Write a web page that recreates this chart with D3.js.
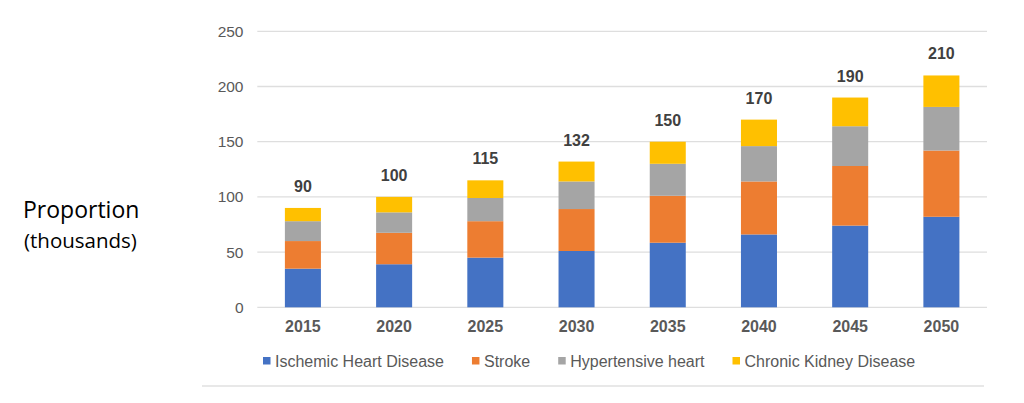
<!DOCTYPE html>
<html>
<head>
<meta charset="utf-8">
<script src="https://cdn.jsdelivr.net/npm/d3@7"></script>
<style>
  html, body { margin: 0; padding: 0; background: #ffffff; }
  svg { display: block; }
</style>
</head>
<body>
<script>
const years = ["2015", "2020", "2025", "2030", "2035", "2040", "2045", "2050"];
const ischemic = [35, 39, 45, 51, 58.5, 66, 74, 82];
const stroke = [25, 28.5, 33, 38, 42.5, 48, 54, 60];
const hypertensive = [18, 18.5, 21, 25, 29, 32, 36, 39.5];
const ckd = [12, 14, 16, 18, 20, 24, 26, 28.5];
const seriesNames = ["Ischemic Heart Disease", "Stroke", "Hypertensive heart", "Chronic Kidney Disease"];
const seriesKeys = ["ischemic", "stroke", "hypertensive", "ckd"];
const colors = ["#4472C4", "#ED7D31", "#A5A5A5", "#FFC000"];
const yTicks = [0, 50, 100, 150, 200, 250];

const W = 1024, H = 403;
const svg = d3.select("body").append("svg").attr("width", W).attr("height", H);

const table = years.map((yr, i) => ({
  year: yr, ischemic: ischemic[i], stroke: stroke[i], hypertensive: hypertensive[i], ckd: ckd[i]
}));

const x = d3.scaleBand().domain(years).range([257.3, 987]).paddingInner(0.605).paddingOuter(0.3025);
const y = d3.scaleLinear().domain([0, 250]).range([307.3, 31.3]);

// gridlines
svg.append("g").selectAll("line").data(yTicks).join("line")
  .attr("x1", 257.3).attr("x2", 987)
  .attr("y1", d => y(d)).attr("y2", d => y(d))
  .attr("stroke", "#dedede").attr("stroke-width", 1.3);

// y tick labels
svg.append("g").selectAll("text").data(yTicks).join("text")
  .attr("x", 243.5).attr("y", d => y(d)).attr("dy", "0.36em")
  .attr("text-anchor", "end")
  .attr("font-family", "Liberation Sans, Arial, sans-serif")
  .attr("font-size", 15.5).attr("fill", "#595959")
  .text(d => d);

// stacked bars
const stack = d3.stack().keys(seriesKeys);
const layers = stack(table);
svg.append("g").selectAll("g").data(layers).join("g")
  .attr("fill", (d, i) => colors[i])
  .selectAll("rect").data(d => d).join("rect")
  .attr("x", d => x(d.data.year))
  .attr("width", x.bandwidth())
  .attr("y", d => y(d[1]))
  .attr("height", d => y(d[0]) - y(d[1]));

// total labels
svg.append("g").selectAll("text").data(table).join("text")
  .attr("x", d => x(d.year) + x.bandwidth() / 2)
  .attr("y", d => y(d.ischemic + d.stroke + d.hypertensive + d.ckd) - 16)
  .attr("text-anchor", "middle")
  .attr("font-family", "Liberation Sans, Arial, sans-serif")
  .attr("font-size", 16).attr("font-weight", "bold").attr("fill", "#404040")
  .text(d => d3.format("d")(d.ischemic + d.stroke + d.hypertensive + d.ckd));

// x labels
svg.append("g").selectAll("text").data(years).join("text")
  .attr("x", d => x(d) + x.bandwidth() / 2)
  .attr("y", 332.3)
  .attr("text-anchor", "middle")
  .attr("font-family", "Liberation Sans, Arial, sans-serif")
  .attr("font-size", 16).attr("font-weight", "bold").attr("fill", "#595959")
  .text(d => d);

// legend
const legend = svg.append("g");
let lx = 263;
seriesNames.forEach((name, i) => {
  legend.append("rect").attr("x", lx).attr("y", 357).attr("width", 7.5).attr("height", 7.5).attr("fill", colors[i]);
  const t = legend.append("text").attr("x", lx + 12).attr("y", 366.5)
    .attr("font-family", "Liberation Sans, Arial, sans-serif")
    .attr("font-size", 16).attr("fill", "#595959").text(name);
  lx += 12 + t.node().getComputedTextLength() + 28;
});

// bottom rule
svg.append("line").attr("x1", 202).attr("x2", 984).attr("y1", 386).attr("y2", 386)
  .attr("stroke", "#e0e0e0").attr("stroke-width", 1.3);

// left title
const title = svg.append("g").attr("font-family", "Open Sans, sans-serif").attr("fill", "#000");
title.append("text").attr("x", 23).attr("y", 218).attr("font-size", 23).text("Proportion");
title.append("text").attr("x", 24).attr("y", 248).attr("font-size", 20.5).text("(thousands)");
</script>
</body>
</html>
